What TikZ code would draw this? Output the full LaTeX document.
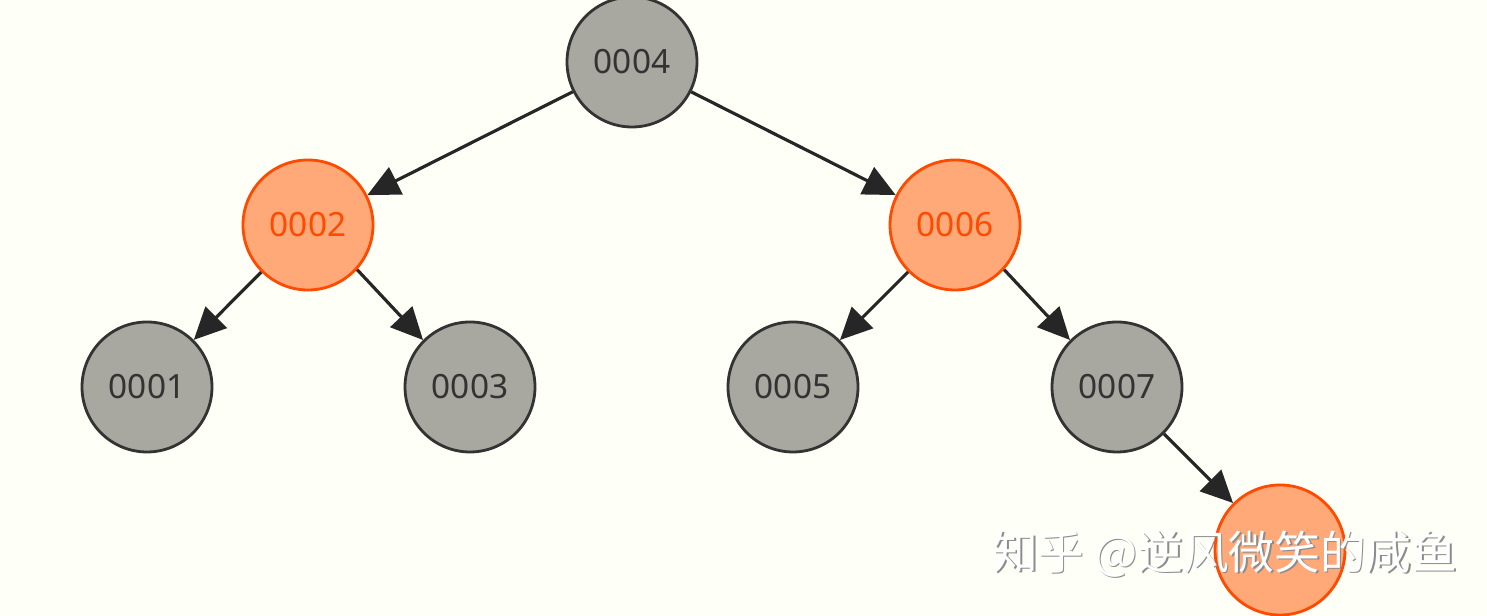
\documentclass[tikz,border=0pt]{standalone}
\usepackage{fontspec}
\setmainfont{Noto Sans}
\newfontfamily\cjk{Noto Sans CJK SC}
\usetikzlibrary{positioning,arrows.meta}
\definecolor{bgc}{HTML}{FEFFF6}
\definecolor{blk}{HTML}{A8A8A0}
\definecolor{redf}{HTML}{FFA878}
\definecolor{redd}{HTML}{FF4A00}
\tikzset{
  bn/.style={circle, minimum size=1.3cm, inner sep=0pt, draw=black!80, line width=0.8pt, fill=blk, text=black!80, font=\fontsize{9.5}{12}\selectfont},
  rn/.style={circle, minimum size=1.3cm, inner sep=0pt, draw=redd, line width=0.8pt, fill=redf, text=redd, font=\fontsize{9.5}{12}\selectfont},
  ed/.style={-{Triangle[length=3.2mm,width=3mm]}, line width=0.9pt, black!85},
  wmk/.style={font=\cjk\fontsize{13}{16}\selectfont}
}
\begin{document}
\begin{tikzpicture}
	\fill[bgc] (0,0) rectangle (14.87,6.16);
	\useasboundingbox (0,0) rectangle (14.87,6.16);
	\node[bn] (n4) at (6.32,5.54) {0004};
	\node[rn] (n2) at (3.08,3.91) {0002};
	\node[rn] (n6) at (9.55,3.91) {0006};
	\node[bn] (n1) at (1.47,2.29) {0001};
	\node[bn] (n3) at (4.70,2.29) {0003};
	\node[bn] (n5) at (7.93,2.29) {0005};
	\node[bn] (n7) at (11.17,2.29) {0007};
	\node[rn] (n8) at (12.80,0.66) {};
	%
	\draw[ed] (n4) -- (n2);
	\draw[ed] (n4) -- (n6);
	\draw[ed] (n2) -- (n1);
	\draw[ed] (n2) -- (n3);
	\draw[ed] (n6) -- (n5);
	\draw[ed] (n6) -- (n7);
	\draw[ed] (n7) -- (n8);
	% watermark
	\node[wmk, text=black!45] (wms) at (12.265,0.605) {知乎 @逆风微笑的咸鱼};
	\node[wmk, text=white] (wm) at (12.25,0.62) {知乎 @逆风微笑的咸鱼};
\end{tikzpicture}
\end{document}
